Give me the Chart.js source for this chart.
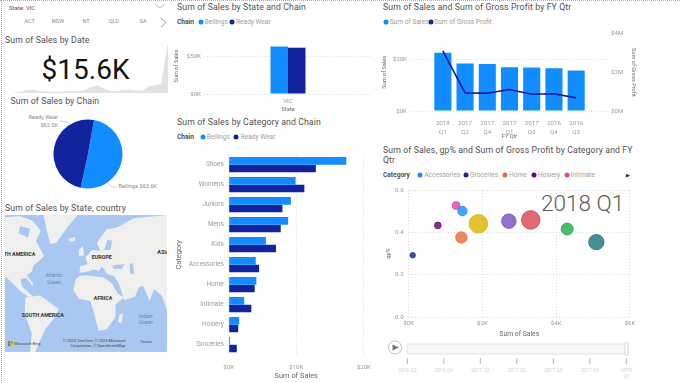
<!DOCTYPE html>
<html>
<head>
<meta charset="utf-8">
<script src="https://cdn.jsdelivr.net/npm/chart.js@4/dist/chart.umd.min.js"></script>
<style>
html, body { margin:0; padding:0; background:#fff; }
body { width:680px; height:383px; overflow:hidden; position:relative; font-family:Roboto, sans-serif; }
canvas { position:absolute; }
svg { position:absolute; }
.t { position:absolute; white-space:nowrap; transform:translateY(-50%); line-height:1; }
.title { font-size:8.7px; color:#505050; letter-spacing:.12px; }
.lg { font-size:6.6px; color:#a0a0a0; }
.lgb { font-size:6.6px; color:#505050; font-weight:700; }
.dot { position:absolute; width:5px; height:5px; border-radius:50%; transform:translate(-50%,-50%); }
.mini { font-size:5.6px; color:#8c8c8c; }
.frame-top { position:absolute; left:0; top:0; width:680px; border-top:1px dotted #aaa; }
.frame-left { position:absolute; left:1px; top:0; height:383px; border-left:1px dotted #aaa; }
</style>
</head>
<body>
<div class="frame-top"></div>
<div class="frame-left"></div>

<!-- world map, only background decoration, not data -->
<svg style="left:5px;top:215px" width="162" height="137" viewBox="15 45 485 410">
  <defs><clipPath id="mapClip"><rect x="15" y="45" width="485" height="410"/></clipPath></defs>
  <rect x="15" y="45" width="485" height="410" fill="#a9c8f1"/>
  <g fill="#efefed" clip-path="url(#mapClip)" style="filter:blur(1.2px)">
    <path d="M130 45L232 45L205 78L168 128L150 132L140 92Z"/>
    <path d="M15 52L60 48L98 62L122 92L108 122L132 168L118 182L100 196L96 214L80 226L100 250L96 256L78 232L62 238L66 260L100 290L84 290L60 272L30 242L15 228Z"/>
    <path d="M76 292L120 286L176 326L165 350L136 386L120 420L106 455L90 455L95 400L74 340Z"/>
    <path d="M226 238L240 226L262 226L310 232L336 250L352 280L372 292L346 312L346 350L320 386L295 392L280 332L270 302L236 296L220 270Z"/>
    <path d="M238 218L240 198L262 192L256 172L276 150L300 152L290 128L318 88L350 82L400 55L500 45L500 330L484 286L462 268L448 302L428 256L416 262L404 290L372 300L356 250L342 228L330 226L318 218L306 198L296 212L280 208L264 214Z"/>
    <path d="M205 116L226 110L224 122L210 124Z"/>
    <path d="M236 150L248 138L252 166L236 168Z"/>
    <path d="M358 342L368 338L364 368L354 366Z"/>
    <path d="M60 78L90 86L84 112L56 100Z" fill="#a9c8f1"/>
    <path d="M312 150L322 118L336 122L330 150Z" fill="#a9c8f1"/>
    <path d="M336 196L372 192L366 206L340 206Z" fill="#a9c8f1"/>
    <path d="M388 190L398 190L402 222L390 220Z" fill="#a9c8f1"/>
  </g>
  <g font-family="Roboto, sans-serif" font-weight="700" font-size="16" fill="#333">
    <text x="106" y="168" text-anchor="end">NORTH AMERICA</text>
    <text x="275" y="178">EUROPE</text>
    <text x="471" y="162">ASIA</text>
    <text x="281" y="299">AFRICA</text>
    <text x="65" y="350">SOUTH AMERICA</text>
  </g>
  <g font-family="Roboto, sans-serif" font-size="15" fill="#5f86b5" text-anchor="middle">
    <text x="162" y="232">Atlantic</text>
    <text x="162" y="251">Ocean</text>
    <text x="436" y="353">Indian</text>
    <text x="436" y="372">Ocean</text>
  </g>
  <g font-family="Roboto, sans-serif" font-size="12" fill="#444">
    <rect x="24" y="423" width="7" height="7" fill="#f25022"/><rect x="32" y="423" width="7" height="7" fill="#7fba00"/>
    <rect x="24" y="431" width="7" height="7" fill="#00a4ef"/><rect x="32" y="431" width="7" height="7" fill="#ffb900"/>
    <text x="43" y="435">Microsoft Bing</text>
    <text x="188" y="426">© 2025 TomTom, © 2025 Microsoft</text>
    <text x="211" y="440">Corporation, © OpenStreetMap</text>
    <text x="420" y="428">Terms</text>
  </g>
</svg>

<!-- pie leaders and play axis furniture -->
<svg style="left:0;top:0" width="680" height="383">
  <path d="M60 121L67 122L69 124" fill="none" stroke="#bbb" stroke-width=".7"/>
  <path d="M108 183L112 187L117 187" fill="none" stroke="#bbb" stroke-width=".7"/>
  <path d="M155 4L160 8L165 4" fill="none" stroke="#aaa" stroke-width=".8"/>
  <path d="M161 18L166 22.5L161 27" fill="none" stroke="#888" stroke-width=".8"/>
  <circle cx="395" cy="347.5" r="6.5" fill="#fff" stroke="#bdbdbd"/>
  <path d="M392.5 344.5L399 347.5L392.5 350.5Z" fill="#777"/>
  <rect x="407" y="344" width="220" height="10" rx="1" fill="#f7f7f7" stroke="#e4e4e4"/>
  <rect x="625" y="342.5" width="3" height="13" rx="1" fill="#fff" stroke="#d8d8d8"/>
  <g id="playTicks" stroke="#b5b5b5"></g>
</svg>

<div id="texts"></div>

<canvas id="spark" style="left:14px;top:44px" width="154" height="49"></canvas>
<canvas id="pie" style="left:52px;top:118px" width="72" height="72"></canvas>
<canvas id="stateChart" style="left:170px;top:30px" width="210" height="90"></canvas>
<canvas id="catChart" style="left:170px;top:145px" width="210" height="238"></canvas>
<canvas id="qtrChart" style="left:380px;top:25px" width="260" height="120"></canvas>
<canvas id="bubbleChart" style="left:378px;top:180px" width="262" height="160"></canvas>

<script>
// colours used by the report theme
const BLUE = '#118DFF'
const NAVY = '#12239E'
const TICK = '#9a9a9a'
const AXIS = '#6a6a6a'
const GRID = '#dcdcdc'

const states = ['ACT', 'NSW', 'NT', 'QLD', 'SA']
const chains = ['Bellings', 'Ready Wear']

// sales by date, $K
const sparkValues = [0, .2, .9, .9, .4, .3, .3, .3, .4, .4, .4, .7, 1.7, 2.4, 1.4, .5, .4, .8, .9, .6, .6, 2, 2.4, 3, 15.6]

const chainTotals = [63.6, 62.0]

const stateLabels = ['VIC']
const stateBellings = [63600]
const stateReadyWear = [62000]
const stateTicks = [0, 50000]

const categories = ['Shoes', 'Womens', 'Juniors', 'Mens', 'Kids', 'Accessories', 'Home', 'Intimate', 'Hosiery', 'Groceries']
const catBellings = [17400, 9900, 9200, 8800, 5500, 4000, 4100, 2300, 1550, 200]
const catReadyWear = [12900, 11200, 7950, 7700, 7000, 4500, 3850, 3350, 1400, 1200]

const fyQtrs = [['2018', 'Q1'], ['2017', 'Q2'], ['2017', 'Q4'], ['2017', 'Q1'], ['2017', 'Q3'], ['2016', 'Q4'], ['2016', 'Q3']]
const qtrSales = [22600, 18400, 18200, 17000, 16900, 16600, 15700]
const qtrProfit = [3110000, 940000, 920000, 1110000, 870000, 890000, 680000]
const qtrTicks = [0, 20000]

const bubbleCats = ['Accessories', 'Groceries', 'Home', 'Hosiery', 'Intimate', 'Juniors', 'Kids', 'Mens', 'Shoes', 'Womens']
const bubbleColors = ['#118DFF', '#12239E', '#E66C37', '#6B007B', '#E044A7', '#744EC2', '#D9B300', '#D64550', '#197278', '#1AAB40']
const bubbleSales = [1457, 108, 1430, 790, 1286, 2716, 1890, 3310, 5090, 4300]
const bubbleGp = [.501, .292, .376, .433, .527, .453, .441, .459, .354, .416]
const bubbleProfit = [440, 146, 650, 218, 320, 1060, 1730, 1730, 1180, 720]

const playQtrs = ['2016 Q3', '2016 Q4', '2017 Q1', '2017 Q2', '2017 Q3', '2017 Q4', '2018 Q1']

Chart.defaults.animation = false
Chart.defaults.responsive = false
Chart.defaults.font.family = 'Roboto, sans-serif'
Chart.defaults.plugins.legend.display = false
Chart.defaults.plugins.tooltip.enabled = false

const box = document.getElementById('texts')
function text(str, x, y, cls, extra) {
    const el = document.createElement('div')
    el.className = 't ' + cls
    el.textContent = str
    el.style.left = x + 'px'
    el.style.top = y + 'px'
    if (extra) el.style.cssText += extra
    box.appendChild(el)
}
function dot(x, y, color) {
    const el = document.createElement('div')
    el.className = 'dot'
    el.style.left = x + 'px'
    el.style.top = y + 'px'
    el.style.background = color
    box.appendChild(el)
}

// slicer and titles
text('State: VIC', 9, 8, 'mini', 'color:#555;font-size:6px')
const slicerX = [29.5, 58, 86, 114, 143]
states.forEach((s, i) => text(s, slicerX[i], 22, 'mini', 'transform:translate(-50%,-50%)'))
text('Sum of Sales by Date', 5, 40, 'title')
text('$15.6K', 85.5, 70, 't', 'font-size:28px;color:#111;transform:translate(-50%,-50%)')
text('Sum of Sales by Chain', 10.5, 101, 'title')
text('Sum of Sales by State, country', 5, 208, 'title')
text('Sum of Sales by State and Chain', 177, 6.5, 'title')
text('Sum of Sales by Category and Chain', 177, 122, 'title')
text('Sum of Sales and Sum of Gross Profit by FY Qtr', 383, 6.5, 'title')
text('Sum of Sales, gp% and Sum of Gross Profit by Category and FY', 383, 149.5, 'title')
text('Qtr', 383, 159.5, 'title')

// pie labels
text(chains[1], 58, 118, 'mini', 'transform:translate(-100%,-50%)')
text('$' + chainTotals[1].toFixed(1) + 'K', 58, 126, 'mini', 'transform:translate(-100%,-50%)')
text(chains[0] + ' $' + chainTotals[0].toFixed(1) + 'K', 118.5, 187, 'mini')

// legends
function legend(y, head, headX, items, cls) {
    if (head) text(head, headX, y, 'lgb')
    items.forEach(it => {
        dot(it.dx, y, it.color)
        text(it.label, it.tx, y, 'lg', cls || '')
    })
}
legend(21.7, 'Chain', 177, [
    { label: chains[0], color: BLUE, dx: 201, tx: 204.7 },
    { label: chains[1], color: NAVY, dx: 231.7, tx: 236 }
])
legend(137.3, 'Chain', 177, [
    { label: chains[0], color: BLUE, dx: 202.7, tx: 206.7 },
    { label: chains[1], color: NAVY, dx: 236, tx: 240.7 }
])
legend(21.7, null, 0, [
    { label: 'Sum of Sales', color: BLUE, dx: 385.7, tx: 389.7 },
    { label: 'Sum of Gross Profit', color: NAVY, dx: 431, tx: 434.3 }
])
const lgDots = [420.3, 465.7, 505, 533.7, 566.7]
const lgText = [424.3, 470, 509, 537.7, 570.7]
text('Category', 383, 175.3, 'lgb')
bubbleCats.slice(0, 5).forEach((c, i) => {
    dot(lgDots[i], 175.3, bubbleColors[i])
    text(c, lgText[i], 175.3, 'lg')
})
text('▶', 626, 175, 'lg', 'color:#222;font-size:5px')
text('2018 Q1', 541, 203, 't', 'font-size:22.5px;font-weight:300;color:#5a5a5a')

// play axis labels
const playG = document.getElementById('playTicks')
playQtrs.forEach((q, i) => {
    const x = 407.3 + i * 36.5
    const l = document.createElementNS('http://www.w3.org/2000/svg', 'line')
    l.setAttribute('x1', x); l.setAttribute('x2', x); l.setAttribute('y1', 358); l.setAttribute('y2', 364)
    playG.appendChild(l)
    if (i < 6) {
        text(q, x, 370, 'mini', 'color:#d2d2d2;font-size:5px;transform:translate(-50%,-50%)')
    } else {
        text('2018', x, 370, 'mini', 'color:#d2d2d2;font-size:5px;transform:translate(-50%,-50%)')
        text('Q1', x, 376, 'mini', 'color:#d2d2d2;font-size:5px;transform:translate(-50%,-50%)')
    }
})

const money = v => '$' + (v / 1000) + 'K'
const tickFont = { size: 6.2 }
const dottedGrid = { color: GRID, lineWidth: 1, drawTicks: false }
const noGrid = { display: false, drawTicks: false }
const dottedBorder = { display: false, dash: [1, 2] }
const fixedTicks = list => s => { s.ticks = list.map(v => ({ value: v })) }

// sparkline behind the card
new Chart(document.getElementById('spark'), {
    type: 'line',
    data: {
        labels: sparkValues.map((v, i) => i),
        datasets: [{ data: sparkValues, fill: true, backgroundColor: '#e2e2e2', borderColor: '#e2e2e2', borderWidth: 1, pointRadius: 0 }]
    },
    options: {
        scales: {
            x: { display: false },
            y: { display: false, min: 0, max: 16 }
        }
    }
})

new Chart(document.getElementById('pie'), {
    type: 'pie',
    data: {
        labels: chains,
        datasets: [{ data: chainTotals, backgroundColor: [BLUE, NAVY], borderWidth: 0 }]
    },
    options: { rotation: 10, layout: { padding: 1.5 } }
})

new Chart(document.getElementById('stateChart'), {
    type: 'bar',
    data: {
        labels: stateLabels,
        datasets: [
            { label: chains[0], data: stateBellings, backgroundColor: BLUE },
            { label: chains[1], data: stateReadyWear, backgroundColor: NAVY }
        ]
    },
    options: {
        layout: { padding: { top: 8, right: 8 } },
        datasets: { bar: { barPercentage: 1, categoryPercentage: 35 / 168 } },
        scales: {
            x: {
                afterFit(s) { s.height = 26 },
                grid: noGrid,
                border: { display: false },
                ticks: { font: tickFont, color: TICK, padding: 4 },
                title: { display: true, text: 'State', font: { size: 5.6 }, color: AXIS, padding: 7.5 }
            },
            y: {
                min: 0, max: 75000,
                afterBuildTicks: fixedTicks(stateTicks),
                afterFit(s) { s.width = 34 },
                grid: dottedGrid,
                border: dottedBorder,
                ticks: { callback: money, font: tickFont, color: TICK, padding: 3 },
                title: { display: true, text: 'Sum of Sales', font: { size: 5.6 }, color: AXIS, padding: 3 }
            }
        }
    }
})

new Chart(document.getElementById('catChart'), {
    type: 'bar',
    data: {
        labels: categories,
        datasets: [
            { label: chains[0], data: catBellings, backgroundColor: BLUE },
            { label: chains[1], data: catReadyWear, backgroundColor: NAVY }
        ]
    },
    options: {
        indexAxis: 'y',
        layout: { padding: { top: 9.7, right: 15 } },
        datasets: { bar: { barPercentage: 1, categoryPercentage: .76 } },
        scales: {
            x: {
                min: 0, max: 20000,
                afterFit(s) { s.height = 28.3 },
                grid: dottedGrid,
                border: dottedBorder,
                ticks: { stepSize: 10000, callback: money, font: tickFont, color: TICK, padding: 9 },
                title: { display: true, text: 'Sum of Sales', font: { size: 7.4 }, color: '#666', padding: 2 }
            },
            y: {
                afterFit(s) { s.width = 58.7 },
                grid: noGrid,
                border: { display: false },
                ticks: { autoSkip: false, font: { size: 6.4 }, color: TICK, padding: 5 },
                title: { display: true, text: 'Category', font: { size: 7.4 }, color: '#666', padding: 5 }
            }
        }
    }
})

// linear x so the bars sit inside the longer gridlines
new Chart(document.getElementById('qtrChart'), {
    type: 'bar',
    data: {
        datasets: [
            {
                type: 'line', label: 'Sum of Gross Profit', yAxisID: 'y2', order: 0,
                data: qtrProfit.map((v, i) => ({ x: i, y: v })),
                borderColor: '#0a1a96', borderWidth: 1.6, pointRadius: 0, tension: 0
            },
            {
                label: 'Sum of Sales', yAxisID: 'y', order: 1,
                data: qtrSales.map((v, i) => ({ x: i, y: v })),
                backgroundColor: BLUE, barPercentage: 1, categoryPercentage: .77
            }
        ]
    },
    options: {
        layout: { padding: { top: 8.7 } },
        scales: {
            x: {
                type: 'linear', min: -.8, max: 6.8,
                afterBuildTicks(s) { s.ticks = fyQtrs.map((q, i) => ({ value: i })) },
                afterFit(s) { s.height = 34 },
                grid: noGrid,
                border: { display: false },
                ticks: {
                    autoSkip: false, maxRotation: 0, includeBounds: false,
                    callback: v => fyQtrs[v],
                    font: { size: 6.2, lineHeight: 1.6 }, color: TICK, padding: 7
                },
                title: { display: true, text: 'FY Qtr', font: { size: 5.6 }, color: AXIS, padding: 4.6 }
            },
            y: {
                min: 0, max: 30000,
                afterBuildTicks: fixedTicks(qtrTicks),
                afterFit(s) { s.width = 31 },
                grid: dottedGrid,
                border: dottedBorder,
                ticks: { callback: money, font: tickFont, color: TICK, padding: 4 },
                title: { display: true, text: 'Sum of Sales', font: { size: 5.6 }, color: AXIS, padding: 1 }
            },
            y2: {
                position: 'right',
                min: 0, max: 4000000,
                afterFit(s) { s.width = 32 },
                grid: noGrid,
                border: { display: false },
                ticks: { stepSize: 2000000, callback: v => '$' + (v / 1000000) + 'M', font: tickFont, color: TICK, padding: 3 },
                title: { display: true, text: 'Sum of Gross Profit', font: { size: 5.6 }, color: AXIS, padding: 3 }
            }
        }
    }
})

new Chart(document.getElementById('bubbleChart'), {
    type: 'bubble',
    data: {
        datasets: bubbleCats.map((c, i) => ({
            label: c,
            data: [{ x: bubbleSales[i], y: bubbleGp[i], r: Math.sqrt(bubbleProfit[i] / 20) }],
            backgroundColor: bubbleColors[i] + 'cc',
            borderColor: bubbleColors[i],
            borderWidth: .8
        }))
    },
    options: {
        layout: { padding: { top: 7.7, right: 9 } },
        scales: {
            x: {
                min: 0, max: 6000,
                afterFit(s) { s.height = 23 },
                grid: dottedGrid,
                border: dottedBorder,
                ticks: { stepSize: 2000, callback: money, font: tickFont, color: TICK, padding: 3 },
                title: { display: true, text: 'Sum of Sales', font: { size: 6.8 }, color: '#666', padding: 2 }
            },
            y: {
                min: 0, max: .6,
                afterFit(s) { s.width = 30.7 },
                grid: dottedGrid,
                border: dottedBorder,
                ticks: { stepSize: .2, callback: v => v.toFixed(1), font: tickFont, color: TICK, padding: 5 },
                title: { display: true, text: 'gp%', font: { size: 5.6 }, color: AXIS, padding: 7 }
            }
        }
    }
})
</script>
</body>
</html>
